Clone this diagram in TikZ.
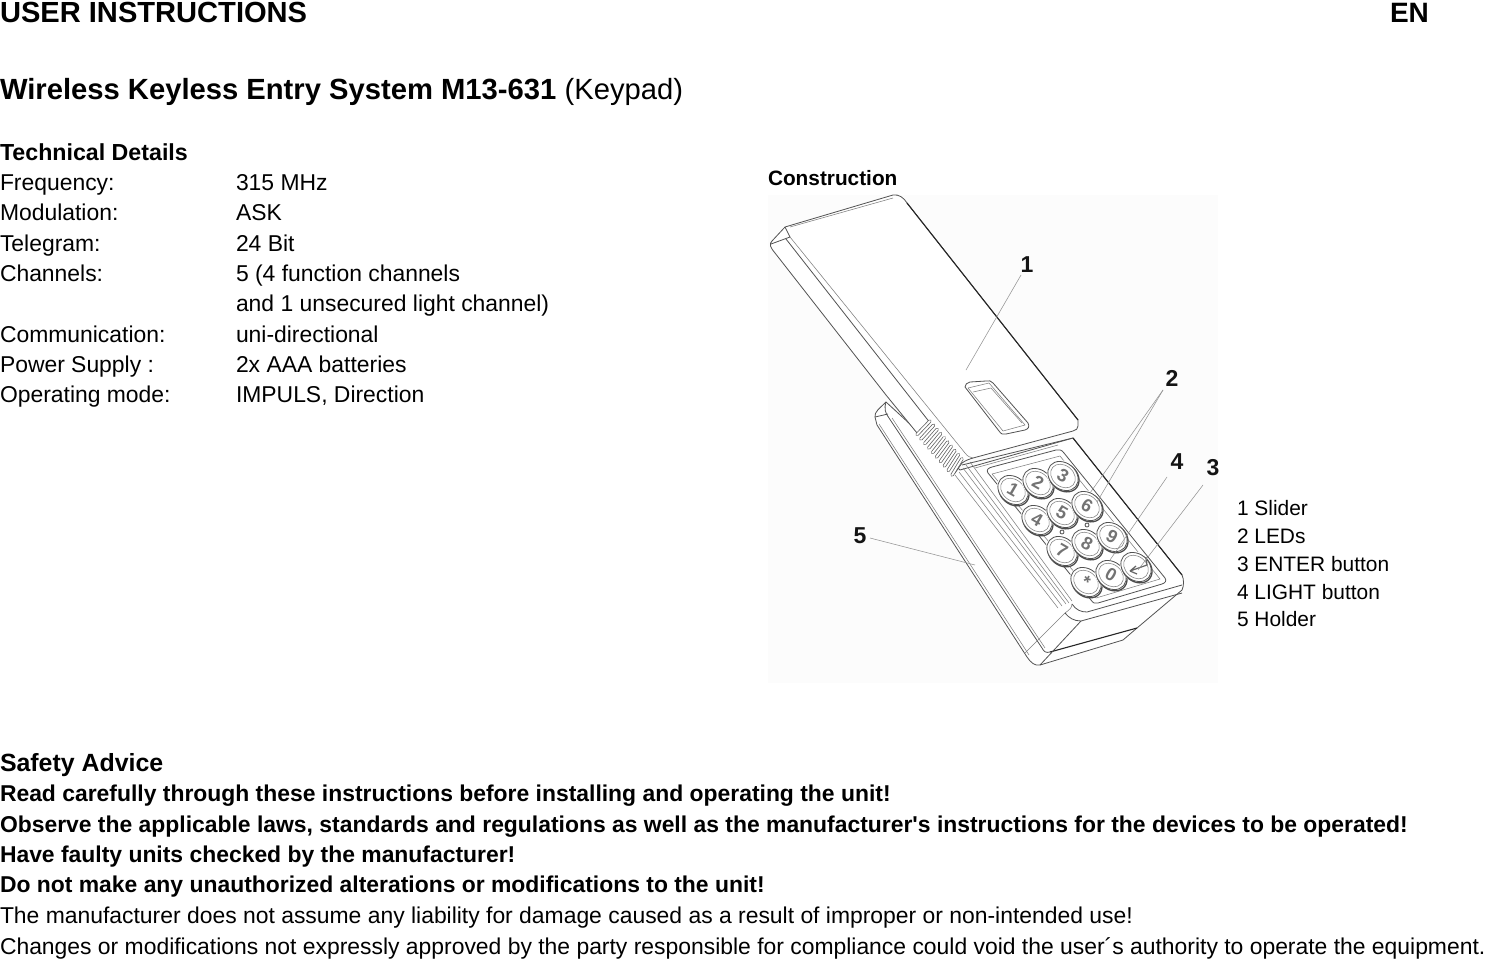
\documentclass[tikz,border=0pt]{standalone}
\usepackage{fontspec}
\setmainfont{Liberation Sans}
\newfontfamily\plainsans{Liberation Sans}
\tikzset{
 txt/.style={anchor=base west,inner sep=0pt,outer sep=0pt,text=black},
 body/.style={txt,font=\fontsize{22.9}{28}\selectfont},
 bodyb/.style={txt,font=\fontsize{22.9}{28}\selectfont\bfseries},
 title/.style={txt,font=\fontsize{29.1}{32}\selectfont\bfseries},
 heading/.style={txt,font=\fontsize{29.2}{34}\selectfont},
 small/.style={txt,font=\fontsize{20.9}{24}\selectfont},
 callout/.style={anchor=center,inner sep=0pt,font=\fontsize{23}{24}\selectfont\bfseries,text=black!92},
 leader/.style={draw=black!42,line width=.55pt},
 ink/.style={draw=black!68,line width=.8pt,line join=round},
 inkdark/.style={draw=black!85,line width=1.1pt,line join=round},
 inkthin/.style={draw=black!50,line width=.55pt,line join=round},
 keydigit/.style={anchor=center,inner sep=0pt,font=\fontsize{18}{18}\selectfont\bfseries,text=black!55},
}
\newcommand{\keybtn}[4]{%
 \fill[white,shift={(#1,#2)},rotate=-40] (0,0) ellipse [x radius=17.5pt,y radius=14.5pt];
 \draw[draw=black!70,line width=1.3pt,shift={(#1+.8,#2+1.2)},rotate=-40] (0,0) ellipse [x radius=16.5pt,y radius=13.2pt];
 \draw[ink,fill=white,shift={(#1,#2)},rotate=-40] (0,0) ellipse [x radius=16.5pt,y radius=13pt];
 \draw[inkthin,shift={(#1,#2)},rotate=-40] (0,0) ellipse [x radius=13.5pt,y radius=10.5pt];
 \node[keydigit,rotate=-30] (#3) at (#1,#2) {#4};
}
\begin{document}
\begin{tikzpicture}[x=1pt,y=-1pt]
\useasboundingbox (0,0) rectangle (1485,959);
\fill[white] (0,0) rectangle (1485,959);
\fill[black!1] (768,195) rectangle (1218,683);

% text
\node[title] (t1) at (0,22) {USER INSTRUCTIONS};
\node[txt,font=\fontsize{28}{32}\selectfont\bfseries] (t2) at (1390,22) {EN};
\node[heading] (t3) at (0,99) {\textbf{Wireless Keyless Entry System M13-631} (Keypad)};
\node[txt,font=\fontsize{23.2}{28}\selectfont\bfseries] (d0) at (0,160) {Technical Details};
\node[body] (d1) at (0,190) {Frequency:};      \node[body] (v1) at (236,190) {315 MHz};
\node[body] (d2) at (0,220) {Modulation:};     \node[body] (v2) at (236,220) {ASK};
\node[body] (d3) at (0,251) {Telegram:};       \node[body] (v3) at (236,251) {24 Bit};
\node[body] (d4) at (0,281) {Channels:};       \node[body] (v4) at (236,281) {5 (4 function channels};
\node[body] (v5) at (236,311) {and 1 unsecured light channel)};
\node[body] (d6) at (0,342) {Communication:};  \node[body] (v6) at (236,342) {uni-directional};
\node[body] (d7) at (0,372) {Power Supply :};  \node[body] (v7) at (236,372) {2x AAA batteries};
\node[body] (d8) at (0,402) {Operating mode:}; \node[body] (v8) at (236,402) {IMPULS, Direction};
\node[txt,font=\fontsize{20.8}{24}\selectfont\bfseries] (c0) at (768,185) {Construction};
\node[small] (l1) at (1237,515) {1 Slider};
\node[small] (l2) at (1237,543) {2 LEDs};
\node[small] (l3) at (1237,571) {3 ENTER button};
\node[small] (l4) at (1237,599) {4 LIGHT button};
\node[small] (l5) at (1237,626) {5 Holder};
\node[txt,font=\fontsize{24.9}{28}\selectfont\bfseries] (s0) at (0,771) {Safety Advice};
\node[bodyb] (s1) at (0,801) {Read carefully through these instructions before installing and operating the unit!};
\node[bodyb,font=\fontsize{22.9}{28}\selectfont\plainsans\bfseries] (s2) at (0,832) {Observe the applicable laws, standards and regulations as well as the manufacturer's instructions for the devices to be operated!};
\node[bodyb] (s3) at (0,862) {Have faulty units checked by the manufacturer!};
\node[bodyb] (s4) at (0,892) {Do not make any unauthorized alterations or modifications to the unit!};
\node[body] (s5) at (0,923) {The manufacturer does not assume any liability for damage caused as a result of improper or non-intended use!};
\node[body] (s6) at (0,954) {Changes or modifications not expressly approved by the party responsible for compliance could void the user´s authority to operate the equipment.};

% holder
\draw[ink,fill=white] (886,402) .. controls (880,408) and (874,412) .. (875,417)
  -- (877,425) -- (1027,657) .. controls (1031,663) and (1035,666) .. (1040,665)
  -- (1123,640) -- (1137,628) -- (1182,590) .. controls (1184,586) and (1184,579) .. (1182,575)
  -- (1073,438) -- (960,470) -- cycle;
\draw[inkthin] (879,424) -- (1029,655);
\draw[ink] (875,417) -- (888,414);
\draw[ink] (886,402) .. controls (884,408) and (885,413) .. (889,418) -- (1042,648)
  .. controls (1044,652) and (1046,653) .. (1050,652);
\draw[inkthin] (892,418) -- (1045,648);
\draw[inkdark] (1050,652) -- (1137,628);
\draw[inkdark] (1073,438) -- (1182,575);
% front face of the holder
\draw[inkthin] (1072,604) .. controls (1072,608) and (1069,610) .. (1065,613) -- (1025,653);
\draw[ink] (1065,613) .. controls (1069,618) and (1074,621) .. (1081,621) -- (1040,665);
\draw[ink] (1081,621) -- (1182,593);
\draw[ink] (1072,604) .. controls (1076,610) and (1081,612) .. (1087,612) -- (1182,585);
% edge ridges below the slider
\draw[inkthin] (955,475) -- (1058,608);
\draw[inkthin] (959,472) -- (1062,606);
\draw[inkthin] (963,468) -- (1066,604);
\draw[inkthin] (966,465) -- (1069,603);
\draw[inkthin] (970,462) -- (1072,601);
% keypad recess
\draw[ink] (988,473) .. controls (986,470) and (988,468) .. (992,467) -- (1056,450)
  .. controls (1059,449) and (1062,450) .. (1064,453) -- (1165,578)
  .. controls (1167,581) and (1165,583) .. (1162,584) -- (1098,603)
  .. controls (1095,604) and (1093,603) .. (1091,600) -- cycle;
\draw[inkthin] (992,474) -- (1060,456) -- (1160,579) -- (1096,598) -- cycle;
\draw[inkthin] (975,468) -- (1058,445);

% buttons
\keybtn{1013}{490}{k1}{1}
\keybtn{1038}{483}{k2}{2}
\keybtn{1063}{476}{k3}{3}
\keybtn{1037}{520}{k4}{4}
\keybtn{1062}{513}{k5}{5}
\keybtn{1087}{506}{k6}{6}
\keybtn{1062}{551}{k7}{7}
\keybtn{1087}{544}{k8}{8}
\keybtn{1112}{537}{k9}{9}
\keybtn{1086}{582}{kS}{*}
\keybtn{1111}{575}{k0}{0}
\keybtn{1136}{567}{kE}{}
\draw[black!60,line width=1.2pt,line join=round] (1146,557) -- (1147,565) -- (1130,571) (1130,571) -- (1136,566) (1130,571) -- (1137,574);
% LEDs
\draw[ink] (1087,525) circle [radius=2pt];
\draw[ink] (1062,532) circle [radius=2pt];

% slider
\draw[ink,fill=white] (886,395) -- (775,253) .. controls (770,247) and (769,244) .. (772,241)
  -- (785,227) -- (893,195) .. controls (899,194) and (904,198) .. (907,203)
  -- (1078,420) -- (1078,426) .. controls (1078,429) and (1076,430) .. (1073,431)
  -- (973,458) .. controls (970,459) and (966,460) .. (962,463) -- (955,473) -- (917,433) -- cycle;
\draw[ink] (771,244) -- (790,237) -- (785,227);
\draw[inkthin] (790,237) -- (965,453) .. controls (968,457) and (970,457) .. (973,458);
\draw[ink] (786,239) -- (956,456);
\draw[inkthin] (790,227) -- (893,198);
\draw[ink] (962,465) -- (1073,438);
\draw[inkdark] (907,203) -- (1078,420);
% window in the slider
\draw[ink] (965,387) .. controls (965,384) and (967,383) .. (970,382) -- (986,381)
  .. controls (989,380) and (991,381) .. (993,383) -- (1028,423)
  .. controls (1030,427) and (1028,429) .. (1025,430) -- (1006,434)
  .. controls (1003,435) and (1001,434) .. (999,431) -- cycle;
\draw[inkthin] (968,388) -- (989,383) -- (1025,425) -- (1003,431) -- cycle;
\draw[inkthin] (973,392) -- (991,388) -- (1022,423);
% grip
\fill[white] (916,434) -- (930,420) -- (962,458) -- (952,475) -- cycle;
\foreach \i in {0,...,9}{
  \draw[black!62,line width=3.4pt,line cap=round] ({917+3.9*\i},{434.5+4.5*\i}) -- ({930+3.55*\i},{421+4.2*\i});
}
\foreach \i in {0,...,9}{
  \draw[white,line width=1.9pt,line cap=round] ({917+3.9*\i},{434.5+4.5*\i}) -- ({930+3.55*\i},{421+4.2*\i});
}

% callouts
\node[callout] (n1) at (1027,265) {1};
\node[callout] (n2) at (1172,378) {2};
\node[callout] (n4) at (1177,462) {4};
\node[callout] (n3) at (1213,468) {3};
\node[callout] (n5) at (860,536) {5};
\coordinate (e1) at (966,370);
\coordinate (e2a) at (1090,493);
\coordinate (e2b) at (1097,502);
\coordinate (e4) at (1110,560);
\coordinate (e3) at (1138,570);
\coordinate (e5) at (975,565);
\coordinate (o1) at (1021,275);
\coordinate (o2) at (1163,390);
\coordinate (o4) at (1167,477);
\coordinate (o3) at (1203,485);
\coordinate (o5) at (870,538);
\draw[leader] (o1) -- (e1);
\draw[leader] (o2) -- (e2a);
\draw[leader] (o2) -- (e2b);
\draw[leader] (o4) -- (e4);
\draw[leader] (o3) -- (e3);
\draw[leader] (o5) -- (e5);
\end{tikzpicture}
\end{document}
